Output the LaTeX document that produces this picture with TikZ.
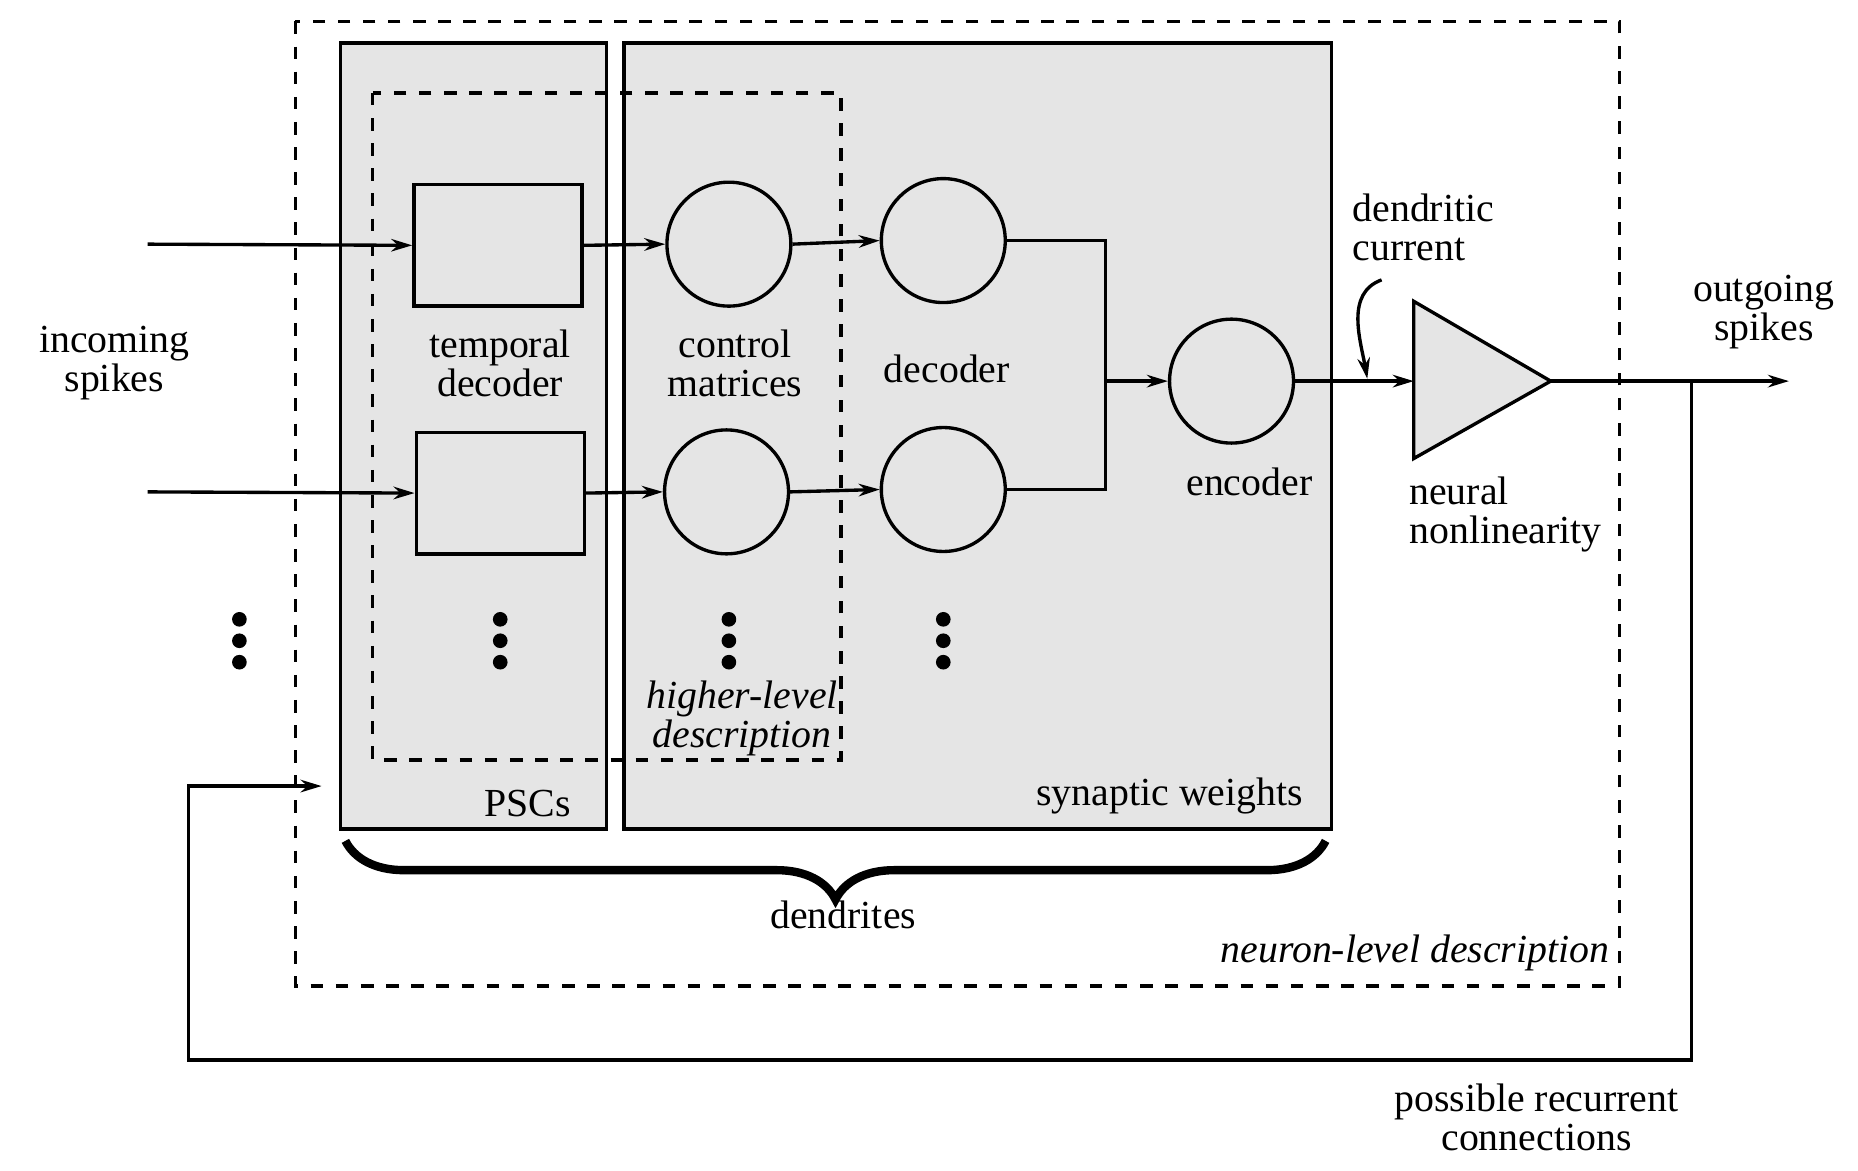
\documentclass[tikz,border=0pt]{standalone}
\usepackage{fontspec}
\setmainfont{Liberation Serif}
\usetikzlibrary{positioning,decorations.pathreplacing,arrows.meta}
\tikzset{
  box/.style={draw, thick, fill=gray!20},
  blk/.style={draw, thick, minimum width=1.41cm, minimum height=1.02cm},
  unit/.style={draw, thick, circle, minimum size=1.04cm, inner sep=0pt},
  lbl/.style={align=center, font=\fontsize{9.5}{9.2}\selectfont},
  sig/.style={-{Stealth[length=5pt,width=3pt]}, thick},
  dotcol/.style={circle, fill, inner sep=0pt, minimum size=3.5pt}
}
\begin{document}
\begin{tikzpicture}[x=0.01cm, y=-0.01cm]
    \useasboundingbox (0,0) rectangle (1560,983);
    % outer frames
    \draw[dashed, thick] (248,18) rectangle (1360,828);
    \draw[box] (286,36) rectangle (509,696);
    \draw[box] (524,36) rectangle (1118,696);
    \draw[dashed, thick] (313,78) rectangle (706,638);

    % blocks
    \node[blk] (td1) at (418,206) {};
    \node[blk] (td2) at (420,414) {};
    \node[unit] (cm1) at (612,205) {};
    \node[unit] (cm2) at (610,413) {};
    \node[unit] (dc1) at (792,202) {};
    \node[unit] (dc2) at (792,411) {};
    \node[unit] (enc) at (1034,320) {};
    \draw[thick, fill=gray!20] (1187,253) -- (1302,320) -- (1187,385) -- cycle;
    \coordinate (nlin) at (1187,320);
    \coordinate (tip) at (1302,320);

    \coordinate (in1) at (124,205);
    \coordinate (in2) at (124,413);
    \coordinate (out) at (1502,320);
    \coordinate (join) at (928,320);
    \coordinate (fb) at (270,660);

    % signals
    \draw[sig] (in1) -- (td1.west);
    \draw[sig] (in2) -- (td2.west);
    \draw[sig] (td1.east) -- (cm1.west);
    \draw[sig] (td2.east) -- (cm2.west);
    \draw[sig] (cm1.east) -- (dc1.west);
    \draw[sig] (cm2.east) -- (dc2.west);
    \draw[thick] (dc1.east) -| (join) |- (dc2.east);
    \draw[sig] (join) -- (enc.west);
    \draw[sig] (enc.east) -- (nlin);
    \draw[sig] (tip) -- (out);
    \draw[sig] (1420,320) -- (1420,890) -- (158,890) -- (158,660) -- (fb);

    % labels
    \node[lbl] (lin) at (96,305) {incoming\\spikes};
    \node[lbl] (ltd) at (420,305) {temporal\\decoder};
    \node[lbl] (lcm) at (617,305) {control\\matrices};
    \node[lbl] (ldc) at (795,310) {decoder};
    \node[lbl] (len) at (1049,405) {encoder};
    \node[lbl, align=left] (lnl) at (1264,432) {neural\\nonlinearity};
    \node[lbl] (lout) at (1481,262) {outgoing\\spikes};
    \node[lbl, align=left] (ldcur) at (1195,191) {dendritic\\current};
    \node[lbl] (lpsc) at (443,675) {PSCs};
    \node[lbl] (lsw) at (982,668) {synaptic weights};
    \node[lbl, font=\fontsize{9.5}{9.2}\selectfont\itshape] (lhl) at (623,603) {higher-level\\description};
    \node[lbl] (lden) at (708,768) {dendrites};
    \node[lbl, font=\fontsize{9.5}{9.2}\selectfont\itshape] (lnd) at (1188,800) {neuron-level description};
    \node[lbl] (lrec) at (1290,938) {possible recurrent\\connections};

    \draw[sig] (1160,235) to[out=200, in=100] (1148,318);
    \draw[decorate, decoration={brace, mirror, amplitude=14pt}, line width=2pt] (290,706) -- (1113,706);

    % ellipses
    \foreach \x in {201,420,612,792}
      \foreach \y in {520,538,556}
        \node[dotcol] at (\x,\y) {};
\end{tikzpicture}
\end{document}
